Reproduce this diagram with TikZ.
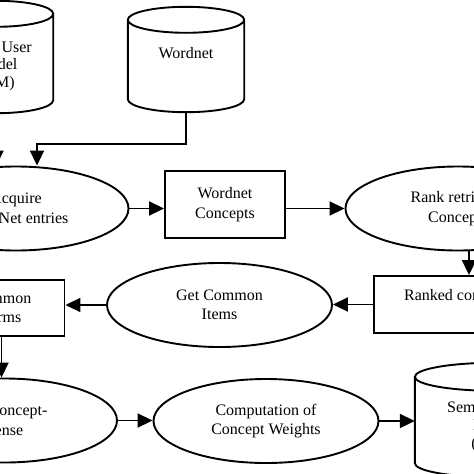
\documentclass[tikz,border=0pt]{standalone}
\usepackage{fontspec}
\setmainfont{Liberation Serif}
\usetikzlibrary{shapes.geometric,arrows.meta,calc}

\tikzset{
  proc/.style={ellipse, draw, line width=1.9pt, minimum width=225pt, minimum height=84pt, inner sep=0pt, align=center},
  item/.style={rectangle, draw, line width=1.9pt, inner sep=0pt, align=center},
  store/.style={rectangle, inner sep=0pt},
  storetext/.style={align=center},
  flow/.style={line width=1.9pt, -{Triangle[length=15pt,width=14pt]}},
}

\begin{document}
\begin{tikzpicture}[x=1pt,y=-1pt,font=\fontsize{16}{19.5}\selectfont]
          \clip (0,0) rectangle (474,474);

          \node[store, minimum width=113pt, minimum height=112pt] (localum) at (-3.5,57) {};
          \node[store, minimum width=116pt, minimum height=105pt] (wordnet) at (186,59.5) {};
          \node[store, minimum width=158pt, minimum height=114pt] (semum) at (494,420) {};
          \foreach \db/\ry in {localum/13, wordnet/13, semum/14} {
            \draw[line width=1.9pt] let \p1=(\db.north west), \p2=(\db.south east), \n1={(\x2-\x1)/2} in
              ([yshift=-\ry pt]\db.north) ellipse [x radius=\n1, y radius=\ry pt]
              (\x1,{\y1-\ry pt}) -- (\x1,{\y2+\ry pt})
              arc [start angle=180, end angle=360, x radius=\n1, y radius=\ry pt]
              -- (\x2,{\y1-\ry pt});
          }
          \node[storetext] (localumtext) at (-3.5,66) {Local User\\[-2pt]Model\\[-2pt](UM)};
          \node[storetext] (wordnettext) at (186,53) {Wordnet};
          \node[storetext] (semumtext) at (494,427) {Semantic User\\[-1.5pt]Model\\[-1.5pt](SUM)};

          \node[proc] (acquire) at (16,208.5) {Acquire\\WordNet entries};
          \node[item, minimum width=120pt, minimum height=67pt] (concepts) at (225,204.5) {Wordnet\\Concepts};
          \node[proc] (rank) at (458,208.5) {Rank retrieved\\Concepts};
          \node[item, minimum width=169pt, minimum height=57pt, text height=11pt, text depth=19pt] (ranked) at (458.5,304.5) {Ranked concepts};
          \node[proc] (common) at (219.5,305) {Get Common\\Items};
          \node[item, minimum width=126pt, minimum height=56pt] (terms) at (1.5,308) {Common\\Terms};
          \node[proc] (sense) at (4.5,420.5) {Get Concept-\\Sense};
          \node[proc] (weights) at (266,421) {Computation of\\Concept Weights};

          \draw[flow] (localum.south) -- (localum.south |- acquire.north);
          \draw[flow] (wordnet.south) -- ++(0,32) -| ([xshift=21pt]acquire.north);
          \draw[flow] (acquire.east) -- (acquire.east -| concepts.west);
          \draw[flow] (rank.west -| concepts.east) -- (rank.west);
          \draw[flow] ([xshift=11pt]rank.south) -- ([xshift=11pt]rank.south |- ranked.north);
          \draw[flow] (ranked.west) -- (ranked.west -| common.east);
          \draw[flow] (common.west) -- (common.west -| terms.east);
          \draw[flow] (terms.south) -- (terms.south |- sense.north);
          \draw[flow] (sense.east) -- (sense.east -| weights.west);
          \draw[flow] (weights.east) -- (weights.east -| semum.west);

        \end{tikzpicture}
\end{document}
